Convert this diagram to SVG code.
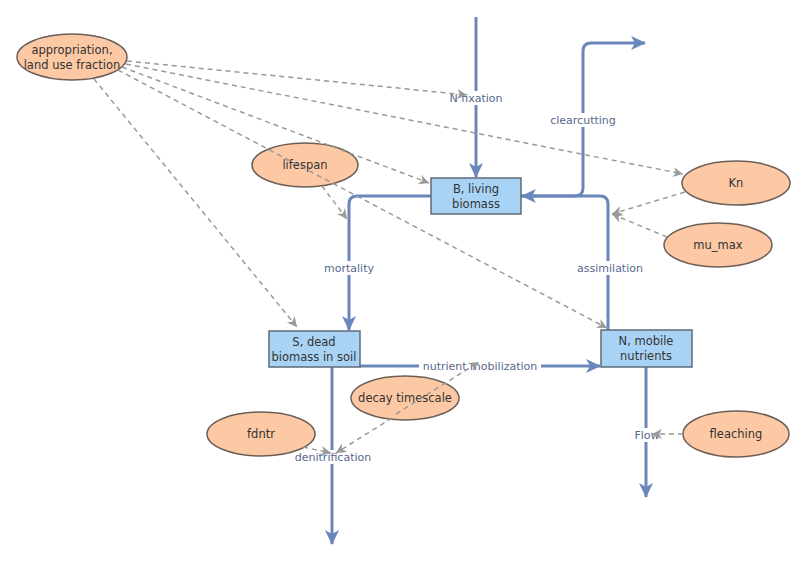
<svg xmlns="http://www.w3.org/2000/svg" width="800" height="564" viewBox="0 0 800 564">
<defs>
<style>
.flow{fill:none;stroke:#6a86bb;stroke-width:3}
.dash{fill:none;stroke:#9a9a9a;stroke-width:1.5;stroke-dasharray:5,4}
.aux ellipse{fill:#fdc9a5;stroke:#6b5e56;stroke-width:1.5}
.stock rect{fill:#a9d3f5;stroke:#5d6b78;stroke-width:1.5}
.nt{font-family:"DejaVu Sans","Liberation Sans",sans-serif;font-size:11.5px;fill:#333;text-anchor:middle}
.fl{font-family:"DejaVu Sans","Liberation Sans",sans-serif;font-size:11px;fill:#56688c;text-anchor:middle}
.lb{fill:#fff}
</style>
<marker id="fa" markerUnits="userSpaceOnUse" markerWidth="16" markerHeight="16" refX="14" refY="8" orient="auto">
<path d="M0,1 L15,8 L0,15 L4,8 z" fill="#6a86bb"/>
</marker>
<marker id="da" markerUnits="userSpaceOnUse" markerWidth="12" markerHeight="12" refX="10" refY="6" orient="auto">
<path d="M0,1 L10,6 L0,11 L3,6 z" fill="#9a9a9a"/>
</marker>
</defs>
<rect width="800" height="564" fill="#fff"/>
<g id="flows">
<path class="flow" d="M476,17 V177" marker-end="url(#fa)"/>
<path class="flow" d="M521,196 H575 Q583,196 583,188 V51 Q583,43 591,43 H645" marker-end="url(#fa)"/>
<path class="flow" d="M608,330 V204 Q608,196 600,196 H522" marker-end="url(#fa)"/>
<path class="flow" d="M431,196 H357 Q349,196 349,204 V330" marker-end="url(#fa)"/>
<path class="flow" d="M360,366 H600" marker-end="url(#fa)"/>
<path class="flow" d="M332,367 V544" marker-end="url(#fa)"/>
<path class="flow" d="M646,367 V497" marker-end="url(#fa)"/>
</g>
<g id="flow-labels">
<rect class="lb" x="444" y="91" width="64" height="14"/>
<text class="fl" x="476" y="102">N fixation</text>
<rect class="lb" x="546" y="113" width="74" height="14"/>
<text class="fl" x="583" y="124">clearcutting</text>
<rect class="lb" x="321" y="261" width="56" height="14"/>
<text class="fl" x="349" y="272">mortality</text>
<rect class="lb" x="575" y="261" width="70" height="14"/>
<text class="fl" x="610" y="272">assimilation</text>
<rect class="lb" x="419" y="359" width="122" height="14"/>
<text class="fl" x="480" y="370">nutrient mobilization</text>
<rect class="lb" x="289" y="450" width="88" height="14"/>
<text class="fl" x="333" y="461">denitrification</text>
<rect class="lb" x="632" y="428" width="30" height="14"/>
<text class="fl" x="647" y="439">Flow</text>
</g>
<g id="appropriation" class="aux"><ellipse cx="72" cy="57" rx="55" ry="23"/><text class="nt" x="72" y="54">appropriation,</text><text class="nt" x="72" y="69">land use fraction</text></g>
<g id="lifespan" class="aux"><ellipse cx="305" cy="165" rx="53" ry="22"/><text class="nt" x="305" y="169">lifespan</text></g>
<g id="Kn" class="aux"><ellipse cx="736" cy="183" rx="54" ry="22"/><text class="nt" x="736" y="187">Kn</text></g>
<g id="mu_max" class="aux"><ellipse cx="718" cy="245" rx="54" ry="22"/><text class="nt" x="718" y="249">mu_max</text></g>
<g id="decay_timescale" class="aux"><ellipse cx="405" cy="398" rx="54" ry="22"/><text class="nt" x="405" y="402">decay timescale</text></g>
<g id="fdntr" class="aux"><ellipse cx="261" cy="434" rx="54" ry="22"/><text class="nt" x="261" y="438">fdntr</text></g>
<g id="fleaching" class="aux"><ellipse cx="736" cy="434" rx="53" ry="23"/><text class="nt" x="736" y="438">fleaching</text></g>
<g id="B" class="stock"><rect x="431" y="178" width="90" height="36"/><text class="nt" x="476" y="193">B, living</text><text class="nt" x="476" y="208">biomass</text></g>
<g id="S" class="stock"><rect x="269" y="331" width="91" height="36"/><text class="nt" x="314" y="346">S, dead</text><text class="nt" x="314" y="361">biomass in soil</text></g>
<g id="N" class="stock"><rect x="601" y="330" width="91" height="37"/><text class="nt" x="646" y="345">N, mobile</text><text class="nt" x="646" y="360">nutrients</text></g>
<g id="links">
<path class="dash" d="M127,61 L467,95" marker-end="url(#da)"/>
<path class="dash" d="M126,64 L683,174" marker-end="url(#da)"/>
<path class="dash" d="M122,67 L429,183" marker-end="url(#da)"/>
<path class="dash" d="M118,70 L607,328" marker-end="url(#da)"/>
<path class="dash" d="M94,79 L297,327" marker-end="url(#da)"/>
<path class="dash" d="M322,186 L347,219" marker-end="url(#da)"/>
<path class="dash" d="M685,192 L612,214" marker-end="url(#da)"/>
<path class="dash" d="M667,237 L612,214" marker-end="url(#da)"/>
<path class="dash" d="M396,414 L479,362" marker-end="url(#da)"/>
<path class="dash" d="M392,418 L336,453" marker-end="url(#da)"/>
<path class="dash" d="M303,447 L331,453" marker-end="url(#da)"/>
<path class="dash" d="M683,434 L652,434" marker-end="url(#da)"/>
</g>
</svg>
